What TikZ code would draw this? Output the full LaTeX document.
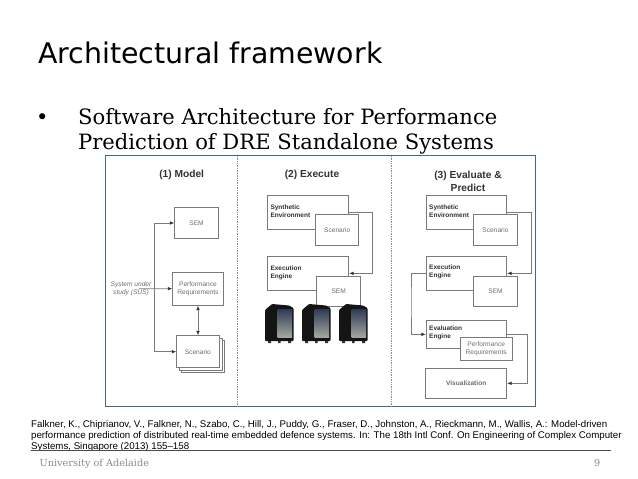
\documentclass[tikz,border=0pt]{standalone}
\usepackage{fontspec}
\setmainfont{Liberation Sans}
\newfontfamily\dvs{DejaVu Sans}
\newfontfamily\dvserif{DejaVu Serif}
\usetikzlibrary{arrows.meta,shapes.geometric}
\definecolor{frameblue}{HTML}{41697F}
\definecolor{boxline}{HTML}{7A7A7A}
\definecolor{boxtext}{HTML}{6E6E6E}
\definecolor{labtext}{HTML}{333333}
\definecolor{footgray}{HTML}{8B8B8B}
\definecolor{paneltop}{HTML}{2F3D55}
\definecolor{panelmid}{HTML}{8C9AA0}
\definecolor{panelbot}{HTML}{A3A69E}
\newcommand{\bx}[6]{%
  \pgfmathsetmacro{\wid}{#4-#2}\pgfmathsetmacro{\hei}{#5-#3}%
  \pgfmathsetmacro{\cxx}{(#2+#4)/2}\pgfmathsetmacro{\cyy}{(#3+#5)/2}%
  \node[box,minimum width=\wid pt,minimum height=\hei pt] (#1) at (\cxx,\cyy) {#6};}
\newcommand{\srv}[2]{%
  \begin{scope}[shift={(#1,#2)}]
    \fill[black!92,rounded corners=1pt] (0,6) -- (7,0) -- (24,1.5) -- (28.5,4) -- (28.5,37) -- (0,37) -- cycle;
    \fill[black!80] (3,37) rectangle (6,39) (13,37) rectangle (15.5,39) (23,37) rectangle (26,39);
    \shade[top color=paneltop,middle color=panelmid,bottom color=panelbot] (12.5,5.5) rectangle (27,33);
  \end{scope}}
\tikzset{
  x=1pt,y=-1pt,
  box/.style={draw=boxline,line width=0.75pt,fill=white,inner sep=0pt,align=center,
    font=\fontsize{6.6}{8.2}\selectfont,text=boxtext},
  lab/.style={anchor=north west,inner sep=0pt,align=left,text=labtext,
    font=\fontsize{6.5}{8}\selectfont\bfseries},
  head/.style={inner sep=0pt,align=center,text=labtext,font=\fontsize{10.2}{12.6}\selectfont\bfseries},
  conn/.style={draw=boxline,line width=0.75pt},
  arr/.style={conn,-{Latex[length=4.5pt,width=3.6pt,color=black!80]}},
  darr/.style={conn,{Latex[length=4.5pt,width=3.6pt,color=black!80]}-{Latex[length=4.5pt,width=3.6pt,color=black!80]}},
  divider/.style={draw=black!45,line width=0.7pt,densely dotted},
  slide/.style={inner sep=0pt,anchor=base west,text=black},
}
\begin{document}
\begin{tikzpicture}
\useasboundingbox (0,0) rectangle (638,479);
\fill[white] (0,0) rectangle (638,479);
% slide text
\node[slide,font=\dvs\fontsize{28.4}{30}\selectfont] (title) at (38,63.5) {Architectural framework};
\node[slide,font=\dvs\fontsize{21}{22}\selectfont] (bul) at (36,124) {•};
\node[slide,font=\dvserif\fontsize{21.1}{22}\selectfont] (l1) at (78,124) {Software Architecture for Performance};
\node[slide,font=\dvserif\fontsize{21.1}{22}\selectfont] (l2) at (78,149) {Prediction of DRE Standalone Systems};
% frame
\draw[frameblue,line width=0.9pt,fill=white] (105.3,155.3) rectangle (535,406.7);
\coordinate (d1t) at (237.7,156); \coordinate (d1b) at (237.7,406);
\coordinate (d2t) at (391.7,156); \coordinate (d2b) at (391.7,406);
\draw[divider] (d1t) -- (d1b);
\draw[divider] (d2t) -- (d2b);
% headings
\node[head] (h1) at (181.7,175) {(1) Model};
\node[head] (h2) at (312,175) {(2) Execute};
\node[head] (h3) at (468,181.3) {(3) Evaluate \&\\Predict};
% column 1
\bx{sema}{174.7}{207.7}{218.3}{238.3}{SEM}
\bx{perfa}{172.7}{272}{223.3}{305.3}{Performance\\Requirements}
\bx{scnc}{181.7}{340.7}{224.7}{372.7}{}
\bx{scnb}{179.2}{338.2}{222.2}{370.2}{}
\bx{scna}{176.7}{335.7}{219}{367.7}{Scenario}
\node[inner sep=0pt,align=center,text=boxtext,font=\fontsize{6.6}{8.3}\selectfont\itshape] (sus) at (131,288.5) {System under\\study (SUS)};
\coordinate (susout) at (139,288.7);
\coordinate (bus) at (154.3,288.7);
\draw[arr] (susout) -- (perfa.west);
\draw[arr] (bus) |- (sema.west);
\draw[arr] (bus) |- (scna.west);
\draw[darr] (perfa.south) ++(0,0) coordinate (pb) -- (pb |- scna.north);
% column 2
\bx{syn}{267.3}{195.7}{348.7}{229.3}{}
\node[lab] (synl) at (270.3,204.5) {Synthetic\\Environment};
\bx{scn}{315.7}{214.7}{358.7}{245.3}{Scenario}
\bx{exe}{267.3}{256.7}{348.7}{290}{}
\node[lab] (exel) at (270.3,265.7) {Execution\\Engine};
\bx{sem}{316.7}{276}{360.7}{306.7}{SEM}
\coordinate (c2) at (372.7,240);
\draw[arr] (syn.east) -| (c2) |- (exe.east);
\srv{265}{304}
\srv{302}{304}
\srv{339}{304}
% column 3
\bx{synb}{426.3}{195.7}{506.7}{229.3}{}
\node[lab] (synbl) at (429,204.5) {Synthetic\\Environment};
\bx{scnd}{473.3}{214.7}{517.7}{245.3}{Scenario}
\bx{exeb}{426.3}{256.7}{506.7}{290}{}
\node[lab] (exebl) at (429,265) {Execution\\Engine};
\bx{semb}{473.3}{276}{517.7}{306.7}{SEM}
\bx{eva}{426.3}{320}{506.7}{348.7}{}
\node[lab] (eval) at (429,326) {Evaluation\\Engine};
\bx{perfb}{460.3}{337}{512}{360.3}{Performance\\Requirements}
\bx{vis}{425.7}{368.3}{506.7}{398.3}{\textbf{Visualization}}
\coordinate (c3) at (531.7,240);
\coordinate (c4) at (411,300);
\coordinate (c5) at (527.7,360);
\draw[arr] (synb.east) -| (c3) |- (exeb.east);
\draw[arr] (exeb.west) -| (c4) |- (eva.west);
\draw[arr] (eva.east) -| (c5) |- (vis.east);
% citation
\node[slide,font=\fontsize{9.7}{11}\selectfont] (ca) at (31,427.3) {Falkner, K., Chiprianov, V., Falkner, N., Szabo, C., Hill, J., Puddy, G., Fraser, D., Johnston, A., Rieckmann, M., Wallis, A.: Model-driven};
\node[slide,font=\fontsize{9.7}{11}\selectfont] (cb) at (31,438.3) {performance prediction of distributed real-time embedded defence systems. In: The 18th Intl Conf. On Engineering of Complex Computer};
\node[slide,font=\fontsize{9.7}{11}\selectfont] (cc) at (31,449) {Systems, Singapore (2013) 155--158};
\coordinate (ra) at (31,450.7); \coordinate (rb) at (610.7,450.7);
\draw[black!70,line width=0.6pt] (ra) -- (rb);
% footer
\node[slide,text=footgray,font=\dvserif\fontsize{9.7}{12}\selectfont] (fl) at (39.5,466.7) {University of Adelaide};
\node[slide,text=footgray,font=\dvserif\fontsize{9.7}{12}\selectfont] (fr) at (594,466.7) {9};
\end{tikzpicture}
\end{document}
